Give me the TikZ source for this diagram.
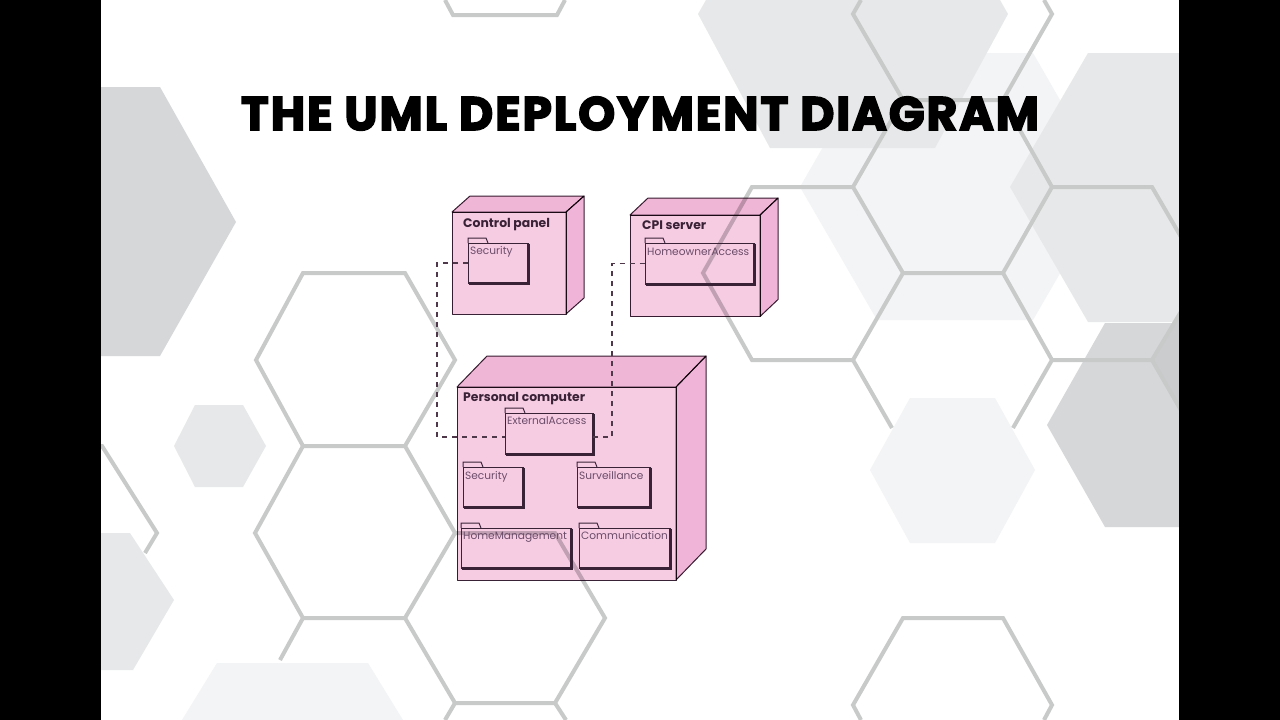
\documentclass[tikz,border=0pt]{standalone}
\usepackage{fontspec}
\setmainfont{Poppins}
\newfontfamily\titlefont[FakeBold=3.5,LetterSpace=4.2]{Poppins Bold}
\usetikzlibrary{calc}
\definecolor{hexline}{HTML}{C8C9C9}
\definecolor{hexdark}{HTML}{D6D7D9}
\definecolor{hexmid}{HTML}{E7E8E9}
\definecolor{hexpale}{HTML}{F3F4F6}
\definecolor{inkline}{HTML}{3A2236}
\definecolor{pinkfront}{HTML}{F6CCE3}
\definecolor{pinktop}{HTML}{EFB6D5}
\definecolor{pinkside}{HTML}{EFB4D7}
\definecolor{labelink}{HTML}{6B4C69}
\tikzset{
  hexedge/.style={draw=hexline,line width=4pt,line join=miter},
  cubeface/.style={draw=inkline,line width=1pt,line join=round,blend mode=multiply},
  cubefront/.style={cubeface,fill=pinkfront,rectangle,inner sep=0pt,outer sep=0pt,anchor=north west},
  cubename/.style={anchor=north west,inner sep=0pt,text=inkline,font=\fontsize{12.4}{12.4}\selectfont\bfseries},
  foldername/.style={anchor=north west,inner sep=0pt,text=labelink,font=\fontsize{10.6}{11}\selectfont},
  folderbox/.style={draw=inkline,line width=1pt,rectangle,inner sep=0pt,outer sep=0pt,anchor=north west},
  depline/.style={draw=inkline!90,line width=1.7pt,dash pattern=on 5pt off 5pt},
}
% front node, top face and side face
\newcommand{\cubebox}[7]{%
  \node[cubefront,minimum width=#4 pt,minimum height=#5 pt] (#1) at (#2,#3) {};
  \draw[cubeface,fill=pinktop] (#1.north west) -- ++(#6,#7) -- ($(#1.north east)+(#6,#7)$) -- (#1.north east) -- cycle;
  \draw[cubeface,fill=pinkside] (#1.north east) -- ++(#6,#7) -- ($(#1.south east)+(#6,#7)$) -- (#1.south east) -- cycle;
}
% folder with tab and heavy lower right edge
\newcommand{\folderpkg}[5]{%
  \node[folderbox,minimum width=#4 pt,minimum height=#5 pt] (#1) at (#2,#3) {};
  \draw[inkline,line width=1pt] (#1.north west) -- ++(0,-5) -- ++(18,0) -- ++(2,5);
  \draw[inkline,line width=3pt] ($(#1.north east)+(0,.5)$) -- ($(#1.south east)+(0,0)$) -- ($(#1.south west)+(1,0)$);
}
\begin{document}
\begin{tikzpicture}[x=1pt,y=-1pt]
  \useasboundingbox (0,0) rectangle (1280,720);
  \fill[white] (0,0) rectangle (1280,720);
  \begin{scope}
    \clip (101,0) rectangle (1179,720);
    % filled hexagons
    \fill[hexdark] (101,87) -- (160,87) -- (236,222) -- (160,356) -- (101,356) -- cycle;
    \fill[hexmid] (174,446) -- (195,405) -- (243,405) -- (266,446) -- (243,487) -- (195,487) -- cycle;
    \fill[hexmid] (101,533) -- (130,533) -- (174,600) -- (133,670) -- (101,670) -- cycle;
    \fill[hexpale] (217,663) -- (368,663) -- (403,720) -- (182,720) -- cycle;
    \fill[hexpale] (800,187) -- (877,53) -- (1033,53) -- (1110,187) -- (1033,320) -- (877,320) -- cycle;
    \fill[hexmid] (698,14) -- (706,0) -- (1000,0) -- (1008,14) -- (935,148) -- (770,148) -- cycle;
    \fill[hexmid] (1010,187) -- (1088,53) -- (1179,53) -- (1179,322) -- (1088,322) -- cycle;
    \fill[hexdark] (1047,425) -- (1105,323) -- (1179,323) -- (1179,527) -- (1105,527) -- cycle;
    \fill[hexdark!95!black] (1154,360) -- (1179,318) -- (1179,404) -- cycle;
    \fill[hexpale] (870,470) -- (910,398) -- (995,398) -- (1035,470) -- (995,543) -- (910,543) -- cycle;
    % hexagon outlines
    \draw[hexedge] (445,0) -- (453,15) -- (557,15) -- (565,0);
    \draw[hexedge] (861,0) -- (853,14) -- (903,100) -- (1003,100) -- (1052,14) -- (1044,0);
    \draw[hexedge] (903,100) -- (853,187) -- (903,273) -- (1003,273) -- (1052,187) -- (1003,100);
    \draw[hexedge] (853,187) -- (752,187) -- (703,273) -- (752,360) -- (853,360) -- (903,273);
    \draw[hexedge] (892,428) -- (853,360);
    \draw[hexedge] (1013,428) -- (1052,360) -- (1003,273);
    \draw[hexedge] (1052,187) -- (1152,187) -- (1202,273);
    \draw[hexedge] (1052,360) -- (1152,360) -- (1182,310);
    \draw[hexedge] (1152,360) -- (1182,412);
    \draw[hexedge] (861,720) -- (853,705) -- (903,618) -- (1003,618) -- (1052,705) -- (1044,720);
    \draw[hexedge] (303,273) -- (405,273) -- (455,360) -- (405,446) -- (303,446) -- (256,360) -- cycle;
    \draw[hexedge] (303,446) -- (255,533) -- (303,618) -- (405,618) -- (455,533) -- (405,446);
    \draw[hexedge] (455,533) -- (555,533) -- (605,618) -- (555,703) -- (455,703) -- (405,618);
    \draw[hexedge] (303,618) -- (280,660);
    \draw[hexedge] (455,703) -- (445,720);
    \draw[hexedge] (555,703) -- (566,720);
    \draw[hexedge] (98,446) -- (102,446) -- (157,533) -- (145,553);
  \end{scope}
  \fill[black] (0,0) rectangle (101,720);
  \fill[black] (1179,0) rectangle (1280,720);
  \node[inner sep=0pt,font=\titlefont\fontsize{47}{47}\selectfont] (title) at (640,113.5) {THE UML DEPLOYMENT DIAGRAM};
  % nodes of the deployment
  \cubebox{panel}{452}{212}{114}{102}{18}{-16}
  \cubebox{cpi}{630}{215}{130}{101.5}{18}{-17}
  \cubebox{pc}{457}{387}{219}{193}{30}{-31}
  \node[cubename] (panelname) at (463,218) {Control panel};
  \node[cubename] (cpiname) at (642,220) {CPI server};
  \node[cubename] (pcname) at (463,392) {Personal computer};
  % packages
  \folderpkg{panelsec}{468}{243}{60}{40}
  \folderpkg{cpiaccess}{645}{243}{109}{41}
  \folderpkg{pcaccess}{505}{413}{88}{41}
  \folderpkg{pcsec}{463}{467}{60}{40}
  \folderpkg{pcsurv}{577}{467}{73}{40}
  \folderpkg{pchome}{461}{528}{110}{40}
  \folderpkg{pccomm}{579}{528}{91}{40}
  \node[foldername] (panelsecname) at (470,246) {Security};
  \node[foldername] (cpiaccessname) at (647,248) {HomeownerAccess};
  \node[foldername] (pcaccessname) at (507,416) {ExternalAccess};
  \node[foldername] (pcsecname) at (465,471) {Security};
  \node[foldername] (pcsurvname) at (579,471) {Surveillance};
  \node[foldername] (pchomename) at (463,532) {HomeManagement};
  \node[foldername] (pccommname) at (581,531) {Communication};
  % dependencies
  \coordinate (pcleft) at (437,437);
  \coordinate (pcright) at (612,437);
  \draw[depline] (panelsec.west) -| (pcleft) -- (pcleft -| pcaccess.west);
  \draw[depline] (pcaccess.east |- pcright) -- (pcright) |- (cpiaccess.west);
\end{tikzpicture}
\end{document}
